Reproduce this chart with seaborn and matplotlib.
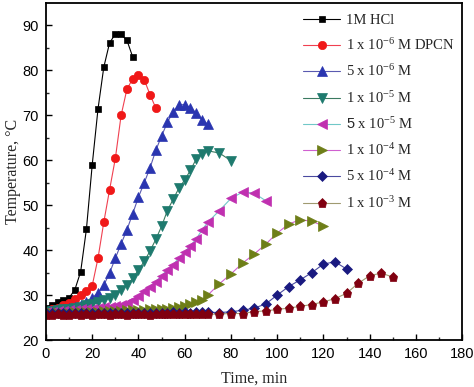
import numpy as np
import pandas as pd
import matplotlib
matplotlib.use("Agg")
import matplotlib.pyplot as plt
import seaborn as sns

# ---------------- data ----------------
t_hcl = [0, 2.5, 5, 7.5, 10, 12.5, 15, 17.5, 20, 22.5, 25, 27.5, 30, 32.5, 35, 37.5]
T_hcl = [27.2, 27.8, 28.4, 28.8, 29.4, 31.2, 35.2, 44.7, 59.0, 71.4, 80.7, 86.1, 88.1, 88.0, 86.7, 83.0]

t_1e6 = [0, 2.5, 5, 7.5, 10, 12.5, 15, 17.5, 20, 22.5, 25, 27.5, 30, 32.5, 35, 37.5, 40, 42.5, 45, 47.5]
T_1e6 = [26.5, 26.8, 27.2, 27.7, 28.3, 29.2, 30.0, 30.8, 32.1, 38.2, 46.2, 53.4, 60.4, 70.0, 75.8, 78.1,
         79.0, 77.9, 74.6, 71.6]

t_5e6 = [0, 2.5, 5, 7.5, 10, 12.5, 15, 17.5, 20, 22.5, 25, 27.5, 30, 32.5, 35, 37.5, 40, 42.5, 45, 47.5,
         50, 52.5, 55, 57.5, 60, 62.5, 65, 67.5, 70]
T_5e6 = [26.3, 26.5, 26.7, 26.9, 27.1, 27.4, 27.8, 28.5, 29.4, 30.5, 32.2, 34.9, 38.2, 41.4, 44.5, 48.1,
         51.8, 55.0, 58.3, 62.2, 65.4, 68.4, 70.8, 72.3, 72.4, 71.7, 70.5, 69.0, 68.0]

t_1e5 = [0, 2.5, 5, 7.5, 10, 12.5, 15, 17.5, 20, 22.5, 25, 27.5, 30, 32.5, 35, 37.5, 40, 42.5, 45, 47.5,
         50, 52.5, 55, 57.5, 60, 62.5, 65, 67.5, 70, 75, 80]
T_1e5 = [26.3, 26.5, 26.6, 26.8, 27.0, 27.2, 27.4, 27.7, 28.0, 28.4, 28.8, 29.3, 30.0, 31.1, 32.2, 33.7,
         35.6, 37.5, 39.8, 42.4, 45.3, 48.8, 51.3, 53.8, 55.6, 57.8, 60.3, 61.5, 62.1, 61.6, 59.9]

t_5e5 = [0, 2.5, 5, 7.5, 10, 12.5, 15, 17.5, 20, 22.5, 25, 27.5, 30, 32.5, 35, 37.5, 40, 42.5, 45, 47.5,
         50, 52.5, 55, 57.5, 60, 62.5, 65, 67.5, 70, 75, 80, 85, 90, 95]
T_5e5 = [26.2, 26.3, 26.4, 26.5, 26.6, 26.7, 26.8, 26.9, 27.0, 27.1, 27.3, 27.4, 27.6, 27.9, 28.3, 28.9,
         29.8, 30.8, 31.9, 33.0, 34.3, 35.6, 36.8, 38.2, 39.6, 41.0, 42.5, 44.5, 46.2, 48.8, 51.5, 52.9,
         52.7, 51.0]

t_1e4 = [0, 2.5, 5, 7.5, 10, 12.5, 15, 17.5, 20, 22.5, 25, 27.5, 30, 32.5, 35, 37.5, 40, 42.5, 45, 47.5,
         50, 52.5, 55, 57.5, 60, 62.5, 65, 67.5, 70, 75, 80, 85, 90, 95, 100, 105, 110, 115, 120]
T_1e4 = [26.0, 26.0, 26.1, 26.1, 26.1, 26.2, 26.2, 26.2, 26.3, 26.3, 26.4, 26.4, 26.5, 26.5, 26.6, 26.6,
         26.7, 26.7, 26.8, 26.8, 26.9, 27.0, 27.1, 27.3, 27.6, 28.0, 28.5, 29.0, 30.0, 32.5, 34.7, 37.1,
         39.1, 41.3, 43.8, 45.8, 46.8, 46.4, 45.4]

t_5e4 = [0, 2.5, 5, 7.5, 10, 12.5, 15, 17.5, 20, 22.5, 25, 27.5, 30, 32.5, 35, 37.5, 40, 42.5, 45, 47.5,
         50, 52.5, 55, 57.5, 60, 62.5, 65, 67.5, 70, 75, 80, 85, 90, 95, 100, 105, 110, 115, 120, 125, 130]
T_5e4 = [26.0, 26.0, 26.0, 26.1, 26.0, 26.0, 26.1, 26.0, 26.0, 26.1, 26.0, 26.1, 26.0, 26.1, 26.1, 26.0,
         26.1, 26.1, 26.0, 26.1, 26.1, 26.1, 26.2, 26.1, 26.2, 26.1, 26.2, 26.2, 26.2, 26.1, 26.3, 26.6,
         27.1, 28.0, 30.0, 31.9, 33.4, 35.0, 36.9, 37.4, 35.8]

t_1e3 = [0, 2.5, 5, 7.5, 10, 12.5, 15, 17.5, 20, 22.5, 25, 27.5, 30, 32.5, 35, 37.5, 40, 42.5, 45, 47.5,
         50, 52.5, 55, 57.5, 60, 62.5, 65, 67.5, 70, 75, 80, 85, 90, 95, 100, 105, 110, 115, 120, 125, 130,
         135, 140, 145, 150]
T_1e3 = [25.6, 25.6, 25.7, 25.6, 25.6, 25.7, 25.6, 25.7, 25.6, 25.7, 25.7, 25.6, 25.7, 25.7, 25.6, 25.7,
         25.7, 25.7, 25.6, 25.7, 25.7, 25.7, 25.7, 25.7, 25.7, 25.7, 25.7, 25.7, 25.7, 25.8, 25.9, 25.9,
         26.3, 26.5, 26.8, 27.1, 27.5, 27.9, 28.5, 29.2, 30.4, 32.6, 34.3, 34.9, 34.0]

labels = [
    "1M HCl",
    r"1 x 10$^{\mathrm{-6}}$ M DPCN",
    r"5 x 10$^{\mathrm{-6}}$ M",
    r"1 x 10$^{\mathrm{-5}}$ M",
    r"$\mathsf{5}$ x 10$^{\mathrm{-5}}$ M",
    r"1 x 10$^{\mathrm{-4}}$ M",
    r"5 x 10$^{\mathrm{-4}}$ M",
    r"1 x 10$^{\mathrm{-3}}$ M",
]

x_ticks = [0, 20, 40, 60, 80, 100, 120, 140, 160, 180]
y_ticks = [20, 30, 40, 50, 60, 70, 80, 90]

# ---------------- style ----------------
sns.set_theme(style="white")
plt.rcParams["font.family"] = ["Liberation Sans", "DejaVu Sans"]
plt.rcParams["mathtext.fontset"] = "custom"
plt.rcParams["mathtext.rm"] = "Liberation Serif"
plt.rcParams["mathtext.sf"] = "Liberation Sans"
plt.rcParams["mathtext.it"] = "Liberation Serif:italic"

series = [
    (t_hcl, T_hcl, "s", "#000000", "#000000", 5.0),
    (t_1e6, T_1e6, "o", "#f01818", "#f04050", 6.0),
    (t_5e6, T_5e6, "^", "#2a35b0", "#5a5ab0", 6.5),
    (t_1e5, T_1e5, "v", "#1e7a6e", "#3a7a60", 6.5),
    (t_5e5, T_5e5, "<", "#c030b0", "#70c8c8", 6.5),
    (t_1e4, T_1e4, ">", "#6e7e18", "#d060d0", 6.5),
    (t_5e4, T_5e4, "D", "#1a1a80", "#4a4aa0", 5.0),
    (t_1e3, T_1e3, "p", "#800010", "#a09a70", 6.5),
]

fig = plt.figure(figsize=(4.74, 3.87), dpi=100)
ax = fig.add_axes([0.097, 0.1214, 0.878, 0.871])

for (tx, ty, m, mc, lc, ms), lab in zip(series, labels):
    df = pd.DataFrame({"Time": tx, "Temp": ty})
    sns.lineplot(data=df, x="Time", y="Temp", ax=ax, color=lc, linewidth=0.8,
                 marker=m, markersize=ms, markerfacecolor=mc,
                 markeredgecolor=mc, markeredgewidth=0.5, label=lab, legend=False,
                 errorbar=None)

ax.set_xlim(0, 180)
ax.set_ylim(20, 95)
ax.set_xticks(x_ticks)
ax.set_yticks(y_ticks)
ax.set_xticks(np.arange(10, 180, 20), minor=True)
ax.set_yticks(np.arange(25, 95, 10), minor=True)
ax.tick_params(axis="both", which="major", direction="in", length=4.5, width=1.0,
               labelsize=10.5, colors="black", pad=5)
ax.tick_params(axis="both", which="minor", direction="in", length=2.5, width=1.0)
ax.tick_params(bottom=True, left=True, top=False, right=False)
ax.tick_params(axis="both", which="minor", bottom=True, left=True, top=False, right=False)
for s in ax.spines.values():
    s.set_linewidth(1.3)
    s.set_color("black")

ax.set_xlabel("Time, min", family=["Liberation Serif"], fontsize=11.5, labelpad=7)
ax.set_ylabel("Temperature, \u00b0C", family=["Liberation Serif"], fontsize=11.5, labelpad=1)

leg = ax.legend(loc="upper left", bbox_to_anchor=(0.608, 0.981), frameon=False,
                prop={"family": "Liberation Serif", "size": 10.5},
                handlelength=2.5, handletextpad=0.45, labelspacing=0.71,
                borderaxespad=0.0, borderpad=0.3)

fig.savefig("out.png", dpi=100)
